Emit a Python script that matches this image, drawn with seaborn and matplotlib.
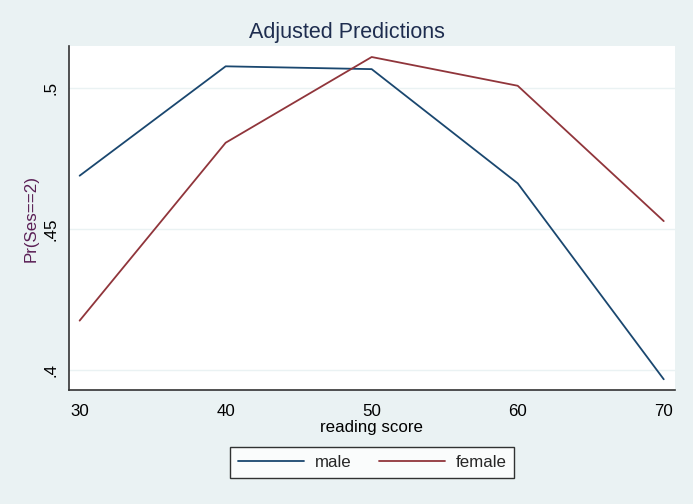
import numpy as np
import pandas as pd
import matplotlib
matplotlib.use("Agg")
import matplotlib.pyplot as plt
import seaborn as sns

# Data
reading_score = [30, 40, 50, 60, 70]
male = [0.4689, 0.5077, 0.5067, 0.4662, 0.3967]
female = [0.4175, 0.4806, 0.5110, 0.5008, 0.4528]
groups = ["male", "female"]
x_ticks = [30, 40, 50, 60, 70]
y_ticks = [0.40, 0.45, 0.50]
y_ticklabels = [".4", ".45", ".5"]

df = pd.DataFrame({
    "reading score": reading_score * 2,
    "pr": male + female,
    "group": [groups[0]] * len(male) + [groups[1]] * len(female),
})

sns.set_style("white")
plt.rcParams["font.family"] = ["Liberation Sans", "DejaVu Sans"]

fs = 12.2
bg = "#EAF2F3"
fig = plt.figure(figsize=(6.93, 5.04), dpi=100, facecolor=bg)
ax = fig.add_axes([0.0991, 0.2262, 0.974 - 0.0991, 0.9087 - 0.2262])
ax.set_facecolor("white")

palette = {"male": "#1A476F", "female": "#90353B"}
sns.lineplot(data=df, x="reading score", y="pr", hue="group", palette=palette,
             linewidth=1.3, ax=ax, legend=False, sort=False)

ax.set_xlim(29.25, 70.77)
ax.set_ylim(0.3929, 0.5149)
ax.set_xticks(x_ticks)
ax.set_xticklabels([str(v) for v in x_ticks], fontsize=fs)
ax.set_yticks(y_ticks)
ax.set_yticklabels(y_ticklabels, fontsize=fs, rotation=90, va="center")
ax.tick_params(axis="both", direction="out", length=5, width=1, color="#222222", labelcolor="black")
ax.tick_params(axis="x", pad=5)
ax.tick_params(axis="y", pad=2.5)
for yv in y_ticks:
    ax.axhline(yv, color=bg, linewidth=1, zorder=0)
for side in ["top", "right"]:
    ax.spines[side].set_visible(False)
for side in ["left", "bottom"]:
    ax.spines[side].set_color("#333333")
    ax.spines[side].set_linewidth(1.2)

ax.set_xlabel("reading score", fontsize=fs, labelpad=1, color="black")
ax.set_ylabel("Pr(Ses==2)", fontsize=fs, labelpad=3, color="#5A1F55")

fig.suptitle("Adjusted Predictions", x=0.5, y=0.936, va="center", fontsize=15.5, color="#1E2D4F")

from matplotlib.lines import Line2D
handles = [Line2D([0], [0], color=palette[g], linewidth=1.3) for g in groups]
leg = fig.legend(handles, groups, loc="center", bbox_to_anchor=(0.537, 0.0823), ncol=2,
                 frameon=True, fancybox=False, edgecolor="black", fontsize=fs,
                 handlelength=3.9, handletextpad=0.65, columnspacing=1.6,
                 borderpad=0.45, borderaxespad=0)
leg.get_frame().set_linewidth(1.0)
leg.get_frame().set_facecolor("white")

fig.savefig("out.png", dpi=100, facecolor=bg)
